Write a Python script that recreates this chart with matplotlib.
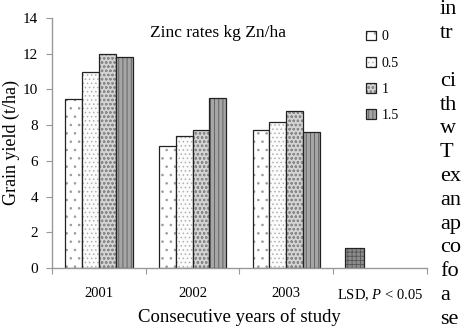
import numpy as np
import matplotlib
matplotlib.use('Agg')
import matplotlib.pyplot as plt
from matplotlib.patches import Patch
from matplotlib.legend_handler import HandlerTuple

plt.rcParams['font.family'] = ['Liberation Serif', 'DejaVu Serif']
plt.rcParams['mathtext.fontset'] = 'custom'
plt.rcParams['mathtext.it'] = 'Liberation Serif:italic'
plt.rcParams['mathtext.rm'] = 'Liberation Serif'
plt.rcParams['hatch.linewidth'] = 0.6

years = ['2001', '2002', '2003']
rates = ['0', '0.5', '1', '1.5']
yield_0 = [9.45, 6.85, 7.75]
yield_05 = [10.95, 7.4, 8.15]
yield_1 = [12.0, 7.75, 8.8]
yield_15 = [11.8, 9.5, 7.6]
lsd = 1.1
cat_labels = years + ['LSD, $P$ < 0.05']

# page text running down the right margin
side_text = ['in', 'tr', '', 'ci', 'th', 'w', 'T', 'ex', 'an', 'ap', 'co', 'fo', 'a', 'se']

fills = ['#ffffff', '#fbfbfb', '#d4d4d4', '#a6a6a6']
hatches = ['..', '....', 'oooo', '||||']
hcols = ['#9a9a9a', '#b0b0b0', '#8a8a8a', '#5a5a5a']

fig = plt.figure(figsize=(4.74, 3.32), dpi=100)
ax = fig.add_axes([0.1097, 0.1928, 0.791, 0.753])

series = [yield_0, yield_05, yield_1, yield_15]
w = 0.18
offs = [-0.27, -0.09, 0.09, 0.27]
x = np.arange(len(years)) + 0.5
handles = []
for vals, off, fc, h, hc in zip(series, offs, fills, hatches, hcols):
    ax.bar(x + off, vals, w, color=fc, hatch=h, edgecolor=hc, linewidth=0)
    ax.bar(x + off, vals, w, fill=False, edgecolor='#222222', linewidth=0.9)
    p1 = Patch(facecolor=fc, hatch=h, edgecolor=hc, linewidth=0)
    p2 = Patch(fill=False, edgecolor='#222222', linewidth=0.9)
    handles.append((p1, p2))

# LSD bar
ax.bar(3.5 - 0.27, lsd, 0.2, color='#8c8c8c', hatch='++++', edgecolor='#555555', linewidth=0)
ax.bar(3.5 - 0.27, lsd, 0.2, fill=False, edgecolor='#222222', linewidth=0.9)

ax.set_xlim(0, 4)
ax.set_ylim(0, 14)
ax.set_yticks(range(0, 15, 2))
ax.set_xticks(range(5))
ax.set_xticklabels([])
ax.set_xticks(np.arange(4) + 0.5, minor=True)
ax.set_xticklabels(cat_labels, minor=True, fontsize=10.5)
ax.tick_params(axis='x', which='minor', length=0, pad=14)
ax.tick_params(axis='x', which='major', length=4, color='#999999', direction='out')
ax.tick_params(axis='y', length=4, color='#999999', labelsize=11, pad=6)
for s in ['top', 'right']:
    ax.spines[s].set_visible(False)
for s in ['left', 'bottom']:
    ax.spines[s].set_color('#999999')
    ax.spines[s].set_linewidth(1.0)

ax.set_xlabel('Consecutive years of study', fontsize=13.5, labelpad=4)
ax.set_ylabel('Grain yield (t/ha)', fontsize=13, labelpad=2)
ax.text(0.443, 0.94, 'Zinc rates kg Zn/ha', transform=ax.transAxes,
        ha='center', va='center', fontsize=12.5)

ax.legend(handles, rates, handler_map={tuple: HandlerTuple(ndivide=1)},
          loc='upper left', bbox_to_anchor=(0.82, 0.978), frameon=False,
          fontsize=10, handlelength=0.7, handleheight=0.7, handletextpad=0.4,
          labelspacing=0.95, borderpad=0)

for i, t in enumerate(side_text):
    fig.text(440 / 474, 1 - (10 + 23.8 * i) / 332, t, fontsize=16,
             va='center', ha='left')

fig.savefig('out.png', dpi=100)
